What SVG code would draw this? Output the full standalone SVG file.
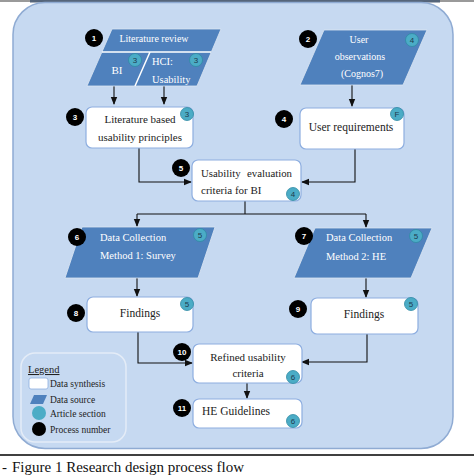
<svg xmlns="http://www.w3.org/2000/svg" width="474" height="475" viewBox="0 0 474 475">
<style>
.t{font-family:"Liberation Serif","Times New Roman",serif;fill:#222}
.w{font-family:"Liberation Serif","Times New Roman",serif;fill:#fff}
.box{fill:#fff;stroke:#8eaee0;stroke-width:1.2}
.src{fill:#4f81bd;stroke:#dce6f2;stroke-width:0.8}
.bn circle{fill:#000}
.bn text{font-family:"Liberation Sans",Arial,sans-serif;font-size:8px;font-weight:bold;fill:#fff;text-anchor:middle}
.as circle{fill:#4bacc6;stroke:#2f8aa3;stroke-width:0.8}
.as text{font-family:"Liberation Sans",Arial,sans-serif;font-size:8px;fill:#1f3b4d;text-anchor:middle}
.c{fill:none;stroke:#111;stroke-width:1.1}
</style>
<defs>
<marker id="ah" markerUnits="userSpaceOnUse" markerWidth="8" markerHeight="8" viewBox="0 0 8 8" refX="7" refY="4" orient="auto">
<path d="M0,0.8 L8,4 L0,7.2 Z" fill="#111"/>
</marker>
</defs>
<rect x="0" y="0" width="474" height="475" fill="#fff"/>
<rect x="0" y="0" width="474" height="2" fill="#9a9a9a"/>
<rect x="30" y="0" width="410" height="2.5" fill="#55657a"/>
<rect id="panel" x="13" y="2.5" width="440" height="446" rx="32" ry="32" fill="#c6d9f1" stroke="#8fabd3" stroke-width="1.5"/>

<g id="connectors">
<path class="c" d="M114 86 V104" marker-end="url(#ah)"/>
<path class="c" d="M164 86 V104" marker-end="url(#ah)"/>
<path class="c" d="M352 85 V106" marker-end="url(#ah)"/>
<path class="c" d="M139 148 V182 H191" marker-end="url(#ah)"/>
<path class="c" d="M355 149 V182 H302" marker-end="url(#ah)"/>
<path class="c" d="M245 201 V214"/>
<path class="c" d="M137 214 H366"/>
<path class="c" d="M137 214 V226" marker-end="url(#ah)"/>
<path class="c" d="M366 214 V227" marker-end="url(#ah)"/>
<path class="c" d="M137 278 V296" marker-end="url(#ah)"/>
<path class="c" d="M366 278 V297" marker-end="url(#ah)"/>
<path class="c" d="M138 332 V363 H192" marker-end="url(#ah)"/>
<path class="c" d="M367 334 V362 H302" marker-end="url(#ah)"/>
<path class="c" d="M247 383 V398" marker-end="url(#ah)"/>
</g>

<g id="n1">
<polygon class="src" points="112,29 221,29 197,86 87,86"/>
<path d="M102 52 H211 M150 52 L135 86" stroke="#fff" stroke-width="1.5"/>
<text class="w" x="154" y="42" font-size="10" text-anchor="middle">Literature review</text>
<text class="w" x="117" y="74" font-size="11" text-anchor="middle">BI</text>
<text class="w" x="152" y="65" font-size="10.5">HCI:</text>
<text class="w" x="152" y="83" font-size="10.5">Usability</text>
<g class="as"><circle cx="135" cy="60" r="6.5"/><text x="135" y="63">3</text></g>
<g class="as"><circle cx="196" cy="60" r="6.5"/><text x="196" y="63">3</text></g>
<g class="bn"><circle cx="94" cy="38" r="9"/><text x="94" y="41">1</text></g>
</g>

<g id="n2">
<polygon class="src" points="324,30 427,30 403,85 300,85"/>
<text class="w" x="359" y="43" font-size="10" text-anchor="middle">User</text>
<text class="w" x="360" y="60" font-size="10" text-anchor="middle">observations</text>
<text class="w" x="362" y="77" font-size="10" text-anchor="middle">(Cognos7)</text>
<g class="as"><circle cx="412" cy="40" r="6.5"/><text x="412" y="43">4</text></g>
<g class="bn"><circle cx="308" cy="39" r="9"/><text x="308" y="42">2</text></g>
</g>

<g id="n3">
<rect class="box" x="86" y="107" width="107" height="41" rx="6"/>
<text class="t" x="140" y="123" font-size="11" text-anchor="middle">Literature based</text>
<text class="t" x="140" y="141" font-size="11" text-anchor="middle">usability principles</text>
<g class="as"><circle cx="187" cy="114" r="6.5"/><text x="187" y="117">3</text></g>
<g class="bn"><circle cx="75" cy="117" r="9"/><text x="75" y="120">3</text></g>
</g>

<g id="n4">
<rect class="box" x="300" y="108" width="104" height="41" rx="6"/>
<text class="t" x="351" y="131" font-size="11.5" text-anchor="middle">User requirements</text>
<g class="as"><circle cx="397" cy="114" r="6.5"/><text x="397" y="117">F</text></g>
<g class="bn"><circle cx="284" cy="119" r="9"/><text x="284" y="122">4</text></g>
</g>

<g id="n5">
<rect class="box" x="192" y="160" width="109" height="41" rx="6"/>
<text class="t" x="201" y="177" font-size="10.8">Usability</text>
<text class="t" x="292" y="177" font-size="10.8" text-anchor="end">evaluation</text>
<text class="t" x="201" y="194" font-size="11">criteria for BI</text>
<g class="as"><circle cx="293" cy="194" r="6.5"/><text x="293" y="197">4</text></g>
<g class="bn"><circle cx="181" cy="168" r="9"/><text x="181" y="171">5</text></g>
</g>

<g id="n6">
<polygon class="src" points="82,227 215,227 198,278 65,278"/>
<text class="w" x="100" y="241" font-size="10.5">Data Collection</text>
<text class="w" x="100" y="259" font-size="10.5">Method 1: Survey</text>
<g class="as"><circle cx="200" cy="235" r="6.5"/><text x="200" y="238">5</text></g>
<g class="bn"><circle cx="77" cy="237" r="9"/><text x="77" y="240">6</text></g>
</g>

<g id="n7">
<polygon class="src" points="315,228 432,228 411,278 294,278"/>
<text class="w" x="326" y="241" font-size="10.5">Data Collection</text>
<text class="w" x="326" y="260" font-size="10.5">Method 2: HE</text>
<g class="as"><circle cx="416" cy="236" r="6.5"/><text x="416" y="239">5</text></g>
<g class="bn"><circle cx="304" cy="236" r="9"/><text x="304" y="239">7</text></g>
</g>

<g id="n8">
<rect class="box" x="87" y="297" width="106" height="35" rx="6"/>
<text class="t" x="140" y="317" font-size="11.5" text-anchor="middle">Findings</text>
<g class="as"><circle cx="187" cy="304" r="6.5"/><text x="187" y="307">5</text></g>
<g class="bn"><circle cx="76" cy="313" r="9"/><text x="76" y="316">8</text></g>
</g>

<g id="n9">
<rect class="box" x="311" y="298" width="107" height="36" rx="6"/>
<text class="t" x="364" y="318" font-size="11.5" text-anchor="middle">Findings</text>
<g class="as"><circle cx="411" cy="304" r="6.5"/><text x="411" y="307">5</text></g>
<g class="bn"><circle cx="298" cy="309" r="9"/><text x="298" y="312">9</text></g>
</g>

<g id="n10">
<rect class="box" x="193" y="344" width="109" height="39" rx="6"/>
<text class="t" x="248" y="361" font-size="11" text-anchor="middle">Refined usability</text>
<text class="t" x="248" y="377" font-size="11" text-anchor="middle">criteria</text>
<g class="as"><circle cx="293" cy="377" r="6.5"/><text x="293" y="380">6</text></g>
<g class="bn"><circle cx="182" cy="352" r="9"/><text x="182" y="355" font-size="7">10</text></g>
</g>

<g id="n11">
<rect class="box" x="193" y="399" width="109" height="29" rx="6"/>
<text class="t" x="202" y="415" font-size="11.5">HE Guidelines</text>
<g class="as"><circle cx="293" cy="421" r="6.5"/><text x="293" y="424">6</text></g>
<g class="bn"><circle cx="182" cy="408" r="9"/><text x="182" y="411" font-size="7">11</text></g>
</g>

<g id="legend">
<rect x="21" y="353" width="105" height="89" rx="14" fill="#c6d9f1" stroke="#e4ecf7" stroke-width="1.5"/>
<text class="t" x="28" y="373" font-size="10.5" text-decoration="underline">Legend</text>
<rect x="29" y="378" width="19" height="11" rx="2" fill="#fff" stroke="#8eaee0" stroke-width="0.8"/>
<text class="t" x="50" y="387" font-size="9.5">Data synthesis</text>
<polygon points="34,395 47,395 43,404 30,404" fill="#4f81bd"/>
<text class="t" x="50" y="403" font-size="9.5">Data source</text>
<circle cx="39" cy="413" r="7" fill="#4bacc6"/>
<text class="t" x="50" y="417" font-size="9.5">Article section</text>
<circle cx="39" cy="429" r="7" fill="#000"/>
<text class="t" x="50" y="433" font-size="9.5">Process number</text>
</g>

<line x1="0" y1="455" x2="474" y2="455" stroke="#000" stroke-width="1.5"/>
<text x="2" y="472" font-family="Liberation Serif, Times New Roman, serif" font-size="15" fill="#111">-</text>
<text x="12" y="472" font-family="Liberation Serif, Times New Roman, serif" font-size="15" fill="#111">Figure 1 Research design process flow</text>
</svg>
